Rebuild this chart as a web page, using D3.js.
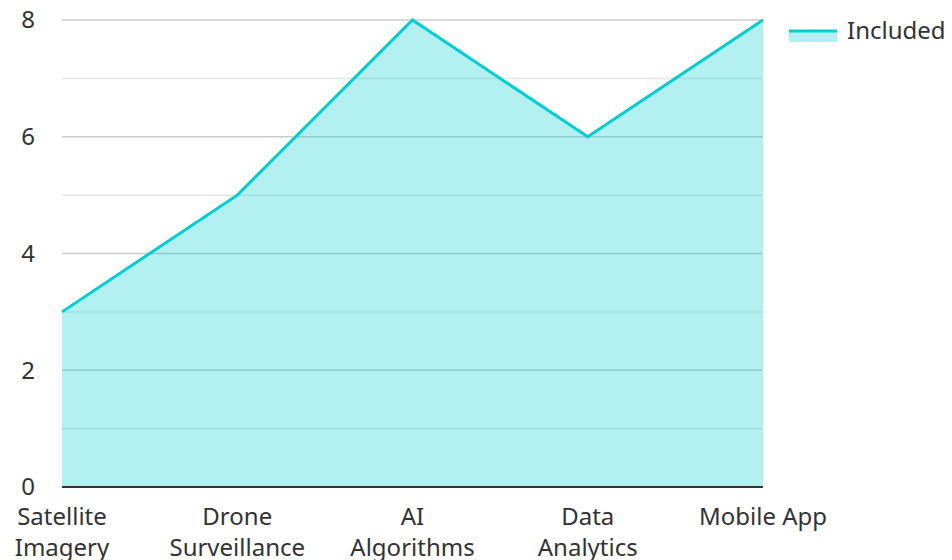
<!DOCTYPE html>
<html><head><meta charset="utf-8">
<script src="https://cdn.jsdelivr.net/npm/d3@7"></script>
<style>body{margin:0;background:#fff;} text{font-family:"Noto Sans",sans-serif;}</style>
</head><body><svg id="c" width="952" height="560"></svg>
<script>
const categories = [["Satellite","Imagery"],["Drone","Surveillance"],["AI","Algorithms"],["Data","Analytics"],["Mobile App"]];
const values = [3,5,8,6,8];
const yTicks = [0,2,4,6,8];
const seriesName = "Included";
const color = "#00CED1";

const svg = d3.select("#c");
const m = {l:62, r:763, t:20, b:487};
const x = d3.scalePoint().domain(d3.range(categories.length)).range([m.l, m.r]);
const y = d3.scaleLinear().domain([0,8]).range([m.b, m.t]);

// grid
const grid = svg.append("g");
d3.range(1,9).forEach(v=>{
  grid.append("line").attr("x1",m.l).attr("x2",m.r).attr("y1",y(v)).attr("y2",y(v))
    .attr("stroke", v%2===0 ? "#ccc" : "#e6e6e6").attr("stroke-width",1.5);
});

// area
svg.append("path").datum(values)
  .attr("d", d3.area().x((d,i)=>x(i)).y0(y(0)).y1(d=>y(d)))
  .attr("fill", color).attr("fill-opacity",0.3);
svg.append("path").datum(values)
  .attr("d", d3.line().x((d,i)=>x(i)).y(d=>y(d)))
  .attr("fill","none").attr("stroke",color).attr("stroke-width",3).attr("stroke-linejoin","miter");

// x axis line
svg.append("line").attr("x1",m.l).attr("x2",m.r).attr("y1",y(0)).attr("y2",y(0))
  .attr("stroke","#333").attr("stroke-width",2);

// y ticks
svg.append("g").selectAll("text").data(yTicks).join("text")
  .attr("x",35).attr("y",d=>y(d)).attr("dy","0.35em").attr("text-anchor","end")
  .attr("font-size",24).attr("fill","#333").text(d=>d);

// x labels
const xl = svg.append("g").selectAll("text").data(categories).join("text")
  .attr("x",(d,i)=>x(i)).attr("y",525).attr("text-anchor","middle")
  .attr("font-size",24).attr("fill","#333");
xl.each(function(d){
  const t = d3.select(this);
  d.forEach((s,j)=>t.append("tspan").attr("x",t.attr("x")).attr("dy", j===0?0:31).text(s));
});

// legend
const lg = svg.append("g");
lg.append("rect").attr("x",789).attr("y",31).attr("width",48).attr("height",11).attr("fill",color).attr("fill-opacity",0.3);
lg.append("line").attr("x1",789).attr("x2",837).attr("y1",31).attr("y2",31).attr("stroke",color).attr("stroke-width",3);
lg.append("text").attr("x",847).attr("y",31).attr("dy","0.35em").attr("font-size",24).attr("fill","#333").text(seriesName);
</script></body></html>
